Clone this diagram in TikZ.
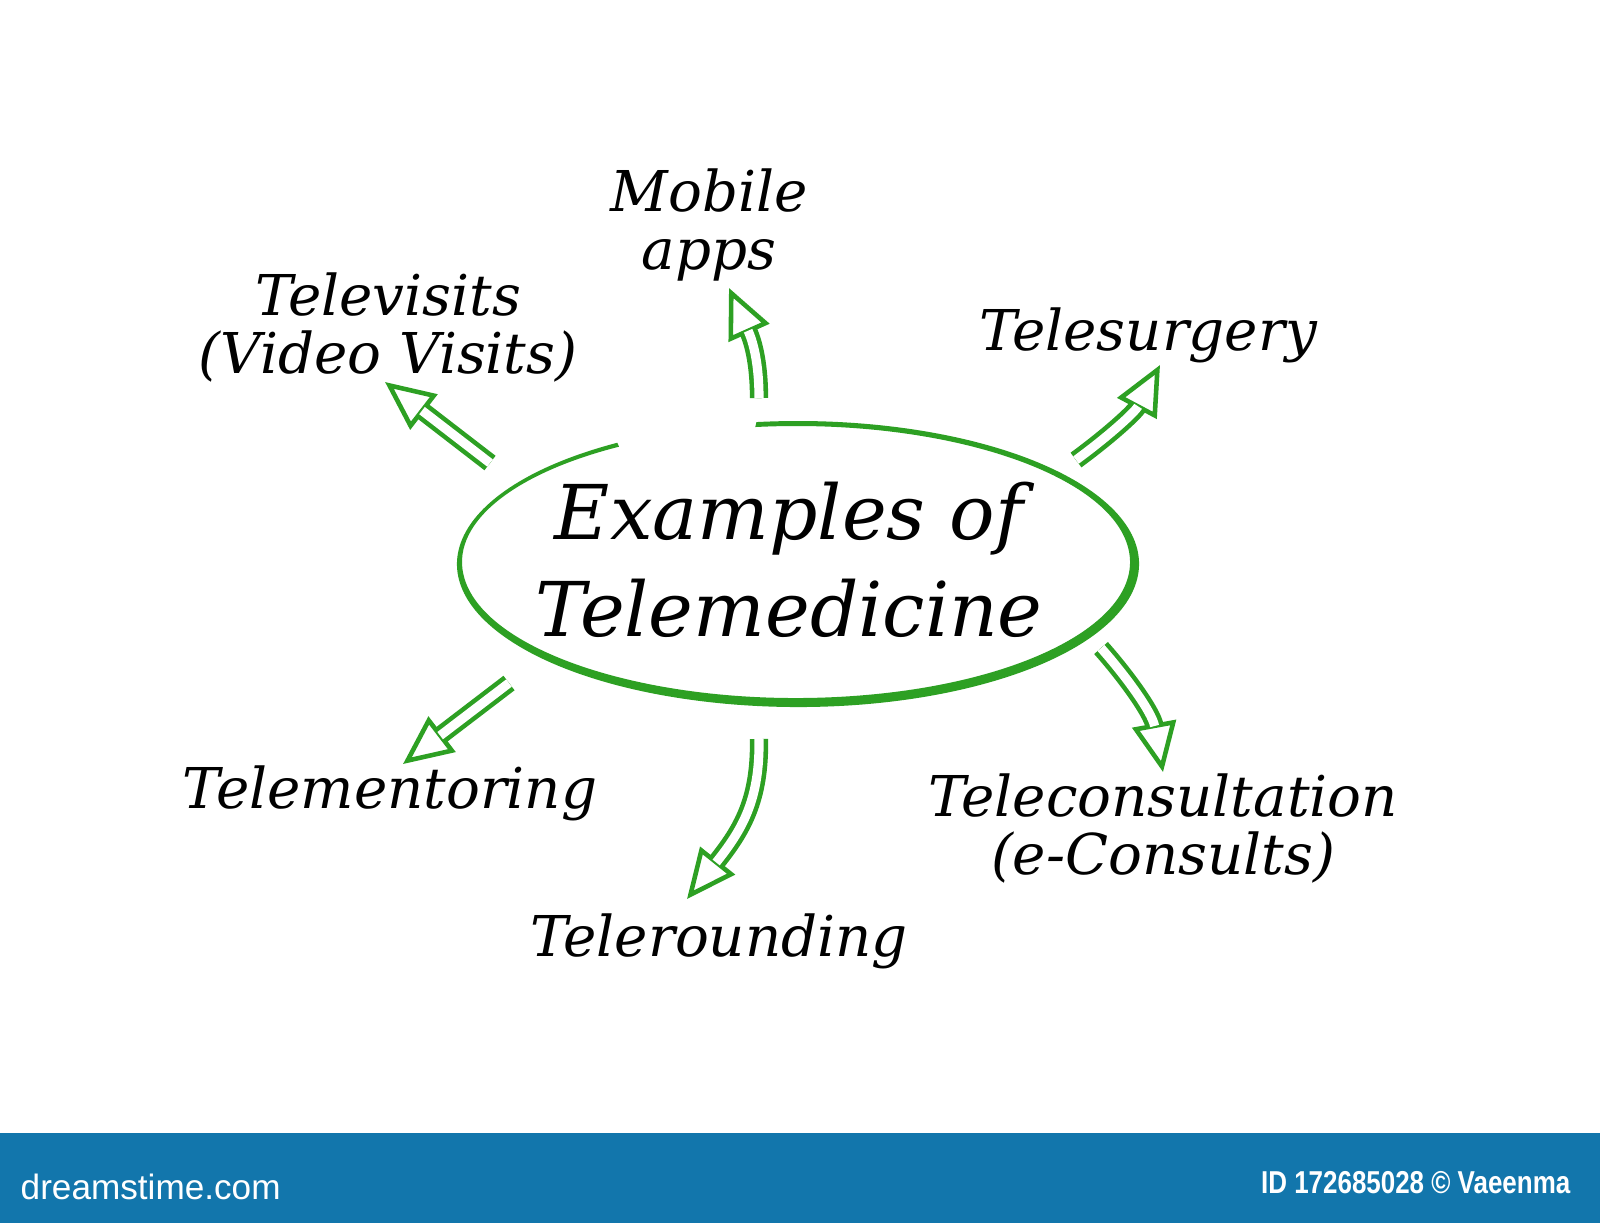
\documentclass[tikz,border=0pt]{standalone}
\usepackage{fontspec}
\setmainfont{DejaVu Serif}
\newfontfamily\barfont{Liberation Sans}
\newfontfamily\idfont[FakeStretch=0.82]{Liberation Sans}
\usepackage{tikz}
\usetikzlibrary{arrows.meta,positioning,calc}
\definecolor{tmgreen}{RGB}{45,160,35}
\definecolor{tmblue}{RGB}{18,118,172}
\tikzstyle{topic} = [align=center, inner sep=0pt, font=\itshape\fontsize{16pt}{16.5pt}\selectfont]
\tikzstyle{hollow} = [draw=tmgreen, line width=1.3pt, line join=round, -{Triangle[open,length=14pt,width=12.5pt]},
  postaction={draw=tmgreen, -, double=white, double distance=2.6pt, shorten >=13.3pt}]

\begin{document}
\begin{tikzpicture}[x=0.01cm, y=-0.01cm]
\useasboundingbox (0,0) rectangle (1600,1223);
\fill[white] (0,0) rectangle (1600,1223);

% Centre
\node[topic, font=\itshape\fontsize{21.5pt}{27.6pt}\selectfont] (centre) at (789,560) {Examples of\\Telemedicine};
\fill[tmgreen] (798,564) ++(238:341 and 143)
  arc[start angle=238, end angle=-97, x radius=341, y radius=143]
  -- ($(796,562)+(-97:334 and 136)$)
  arc[start angle=-97, end angle=238, x radius=334, y radius=136] -- cycle;

% Topics
\node[topic] (mobile) at (709,225) {Mobile\\apps};
\node[topic] (televisits) at (388,327) {Televisits\\(Video Visits)};
\node[topic] (telesurgery) at (1148,335) {Telesurgery};
\node[topic] (telementoring) at (390,793) {Telementoring};
\node[topic] (telerounding) at (719,941) {Telerounding};
\node[topic] (teleconsult) at (1163,828) {Teleconsultation\\(e-Consults)};

% Arrow ends
\coordinate (mobile-s) at (759,398);
\coordinate (mobile-e) at (729,288);
\coordinate (televisits-s) at (490,463);
\coordinate (televisits-e) at (385,382);
\coordinate (telesurgery-s) at (1076,460);
\coordinate (telesurgery-e) at (1160,365);
\coordinate (telementoring-s) at (509,683);
\coordinate (telementoring-e) at (403,764);
\coordinate (telerounding-s) at (759,739);
\coordinate (telerounding-e) at (687,899);
\coordinate (teleconsult-s) at (1101,648);
\coordinate (teleconsult-e) at (1163,772);

% Arrows
\draw[hollow] (mobile-s) .. controls (759,355) and (750,335) .. (mobile-e);
\draw[hollow] (televisits-s) -- (televisits-e);
\draw[hollow] (telesurgery-s) .. controls (1110,435) and (1135,412) .. (telesurgery-e);
\draw[hollow] (telementoring-s) -- (telementoring-e);
\draw[hollow] (telerounding-s) .. controls (760,800) and (742,830) .. (telerounding-e);
\draw[hollow] (teleconsult-s) .. controls (1125,675) and (1152,712) .. (teleconsult-e);

% Bottom bar
\fill[tmblue] (0,1133) rectangle (1600,1223);
\node[anchor=west, inner sep=0pt, text=white, font=\barfont\fontsize{10pt}{12pt}\selectfont] (site) at (20,1187) {dreamstime.com};
\node[anchor=east, inner sep=0pt, text=white, font=\idfont\bfseries\fontsize{9pt}{11pt}\selectfont] (imageid) at (1571,1183) {ID 172685028 © Vaeenma};
\end{tikzpicture}
\end{document}
